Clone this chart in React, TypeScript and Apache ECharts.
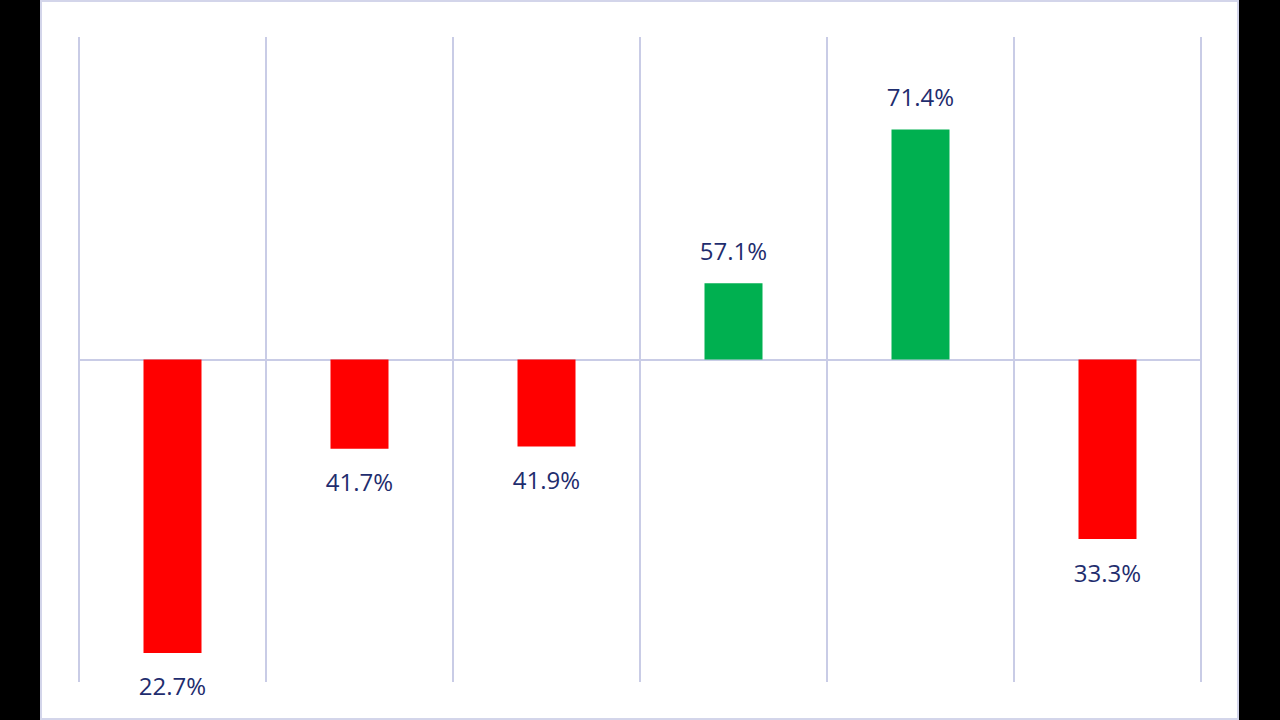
import { useEffect, useRef } from 'react';
import * as echarts from 'echarts';

// share of each group, drawn as a deviation from the 50% line
const categories = ['A', 'B', 'C', 'D', 'E', 'F'];
const shares = [22.7, 41.7, 41.9, 57.1, 71.4, 33.3];
const BASE = 50;

const UP_COLOR = '#00b050';
const DOWN_COLOR = '#ff0000';
const LINE_COLOR = '#c9cce6';
const LABEL_COLOR = '#1f2d6e';

function App() {
  const divEl = useRef<HTMLDivElement>(null);

  useEffect(() => {
    const instance = echarts.init(divEl.current as any, undefined, { renderer: 'svg' });

    const option: echarts.EChartsOption = {
      animation: false,
      backgroundColor: 'transparent',
      grid: { left: 79, right: 79, top: 37, bottom: 38 },
      xAxis: {
        type: 'category',
        data: categories,
        boundaryGap: true,
        axisLine: { show: true, onZero: true, lineStyle: { color: LINE_COLOR, width: 2 } },
        axisTick: { show: false },
        axisLabel: { show: false },
        splitLine: { show: true, lineStyle: { color: LINE_COLOR, width: 2 } },
      },
      yAxis: {
        type: 'value',
        min: -30,
        max: 30,
        interval: 10,
        axisLine: { show: false },
        axisTick: { show: false },
        axisLabel: { show: false },
        splitLine: { show: false },
      },
      series: [
        {
          type: 'bar',
          barWidth: 58,
          data: shares.map((v) => ({
            value: +(v - BASE).toFixed(1),
            itemStyle: { color: v >= BASE ? UP_COLOR : DOWN_COLOR },
          })),
          label: {
            show: true,
            position: 'outside',
            distance: 21,
            color: LABEL_COLOR,
            fontFamily: 'Open Sans',
            fontSize: 24,
            formatter: (p: any) => shares[p.dataIndex].toFixed(1) + '%',
          },
        },
      ],
    };

    instance.setOption(option);
    return () => {
      instance.dispose();
    };
  }, []);

  return (
    <div style={{ position: 'fixed', left: 0, top: 0, width: 1280, height: 720, background: '#000' }}>
      <div
        style={{
          position: 'absolute',
          left: 40,
          top: 0,
          width: 1199,
          height: 720,
          boxSizing: 'border-box',
          border: '2px solid #d3d5ea',
          background: '#fff',
        }}
      />
      <div ref={divEl} style={{ position: 'absolute', left: 0, top: 0, width: 1280, height: 720 }} />
    </div>
  );
}

export default App;
